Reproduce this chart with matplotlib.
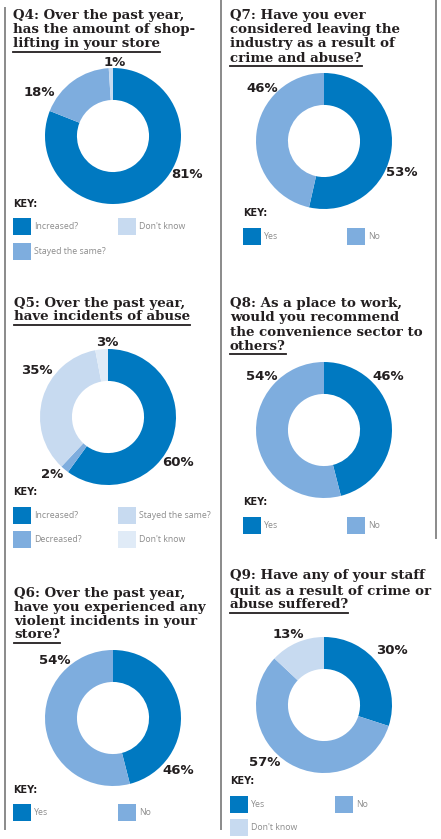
import matplotlib
matplotlib.use("Agg")
import matplotlib.pyplot as plt
from matplotlib.lines import Line2D
from matplotlib.patches import Rectangle

W, H = 441, 839

DARK = "#0079c1"
MID = "#7eadde"
LIGHT = "#c7daf0"
PALE = "#e0ebf7"

# survey data
q4_labels = ["Increased?", "Stayed the same?", "Don't know"]
q4_values = [81, 18, 1]
q5_labels = ["Increased?", "Decreased?", "Stayed the same?", "Don't know"]
q5_values = [60, 2, 35, 3]
q6_labels = ["Yes", "No"]
q6_values = [46, 54]
q7_labels = ["Yes", "No"]
q7_values = [53, 46]
q8_labels = ["Yes", "No"]
q8_values = [46, 54]
q9_labels = ["Yes", "No", "Don't know"]
q9_values = [30, 57, 13]

q4_title = ["Q4: Over the past year,", "has the amount of shop-", "lifting in your store"]
q5_title = ["Q5: Over the past year,", "have incidents of abuse"]
q6_title = ["Q6: Over the past year,", "have you experienced any",
            "violent incidents in your", "store?"]
q7_title = ["Q7: Have you ever", "considered leaving the",
            "industry as a result of", "crime and abuse?"]
q8_title = ["Q8: As a place to work,", "would you recommend",
            "the convenience sector to", "others?"]
q9_title = ["Q9: Have any of your staff", "quit as a result of crime or",
            "abuse suffered?"]

fig = plt.figure(figsize=(W / 100, H / 100), dpi=100)
fig.patch.set_facecolor("white")


def fx(x):
    return x / W


def fy(y):
    return 1 - y / H


def vline(x, y0, y1):
    fig.add_artist(Line2D([fx(x), fx(x)], [fy(y0), fy(y1)],
                          color="#8a8a8a", lw=1.4, transform=fig.transFigure))


vline(5, 8, 829)
vline(221, 0, 829)
vline(436, 0, 538)


def title(lines, x, ys):
    t = None
    for line, y in zip(lines, ys):
        t = fig.text(fx(x), fy(y), line, fontsize=9.6, fontweight="bold",
                     family="DejaVu Serif", color="#231f20", va="center", ha="left")
    fig.canvas.draw()
    bb = t.get_window_extent(renderer=fig.canvas.get_renderer())
    uy = ys[-1] + 7.5
    fig.add_artist(Line2D([fx(bb.x0), fx(bb.x1)], [fy(uy), fy(uy)],
                          color="#231f20", lw=1.3, transform=fig.transFigure))


def donut(values, colors, cx, cy, r=68):
    ax = fig.add_axes([fx(cx - r), fy(cy + r), 2 * r / W, 2 * r / H])
    ax.pie(values, colors=colors, startangle=90, counterclock=False,
           wedgeprops=dict(width=0.47, edgecolor="none"))
    ax.set_xlim(-1, 1)
    ax.set_ylim(-1, 1)
    ax.set_aspect("equal")
    ax.axis("off")


def pct(text, x, y):
    fig.text(fx(x), fy(y), text, fontsize=9.5, fontweight="bold",
             family="DejaVu Sans", color="#231f20", ha="center", va="center")


def key(x, y):
    fig.text(fx(x), fy(y), "KEY:", fontsize=7, fontweight="bold",
             family="DejaVu Sans", color="#231f20", ha="left", va="center")


def swatch(label, color, x, y):
    fig.add_artist(Rectangle((fx(x), fy(y + 17)), 18 / W, 17 / H,
                             facecolor=color, edgecolor="none",
                             transform=fig.transFigure))
    fig.text(fx(x + 21), fy(y + 8.5), label, fontsize=6.3, family="Open Sans",
             color="#8c8c8c", ha="left", va="center")


# Q4
title(q4_title, 13, [15, 30, 44])
donut(q4_values, [DARK, MID, LIGHT], 113, 136)
for t, x, y in zip([f"{v}%" for v in q4_values], [187, 39, 115], [174, 92, 62]):
    pct(t, x, y)
key(13, 204)
for lab, col, x, y in zip(q4_labels, [DARK, MID, LIGHT], [13, 13, 118], [218, 243, 218]):
    swatch(lab, col, x, y)

# Q7
title(q7_title, 230, [16, 29, 43, 58])
donut(q7_values, [DARK, MID], 324, 141)
for t, x, y in zip([f"{v}%" for v in q7_values], [402, 262], [173, 88]):
    pct(t, x, y)
key(243, 213)
for lab, col, x, y in zip(q7_labels, [DARK, MID], [243, 347], [228, 228]):
    swatch(lab, col, x, y)

# Q5
title(q5_title, 14, [303, 317])
donut(q5_values, [DARK, MID, LIGHT, PALE], 108, 417)
for t, x, y in zip([f"{v}%" for v in q5_values], [178, 52, 37, 107], [462, 474, 370, 342]):
    pct(t, x, y)
key(13, 492)
for lab, col, x, y in zip(q5_labels, [DARK, MID, LIGHT, PALE],
                          [13, 13, 118, 118], [507, 531, 507, 531]):
    swatch(lab, col, x, y)

# Q8
title(q8_title, 230, [303, 317, 333, 347])
donut(q8_values, [DARK, MID], 324, 430)
for t, x, y in zip([f"{v}%" for v in q8_values], [388, 262], [377, 377]):
    pct(t, x, y)
key(243, 502)
for lab, col, x, y in zip(q8_labels, [DARK, MID], [243, 347], [517, 517]):
    swatch(lab, col, x, y)

# Q6
title(q6_title, 14, [593, 607, 621, 635])
donut(q6_values, [DARK, MID], 113, 718)
for t, x, y in zip([f"{v}%" for v in q6_values], [178, 55], [771, 660]):
    pct(t, x, y)
key(13, 790)
for lab, col, x, y in zip(q6_labels, [DARK, MID], [13, 118], [804, 804]):
    swatch(lab, col, x, y)

# Q9
title(q9_title, 230, [576, 591, 605])
donut(q9_values, [DARK, MID, LIGHT], 324, 705)
for t, x, y in zip([f"{v}%" for v in q9_values], [392, 265, 288], [651, 763, 634]):
    pct(t, x, y)
key(230, 781)
for lab, col, x, y in zip(q9_labels, [DARK, MID, LIGHT], [230, 335, 230], [796, 796, 819]):
    swatch(lab, col, x, y)

fig.savefig("out.png", dpi=100)
